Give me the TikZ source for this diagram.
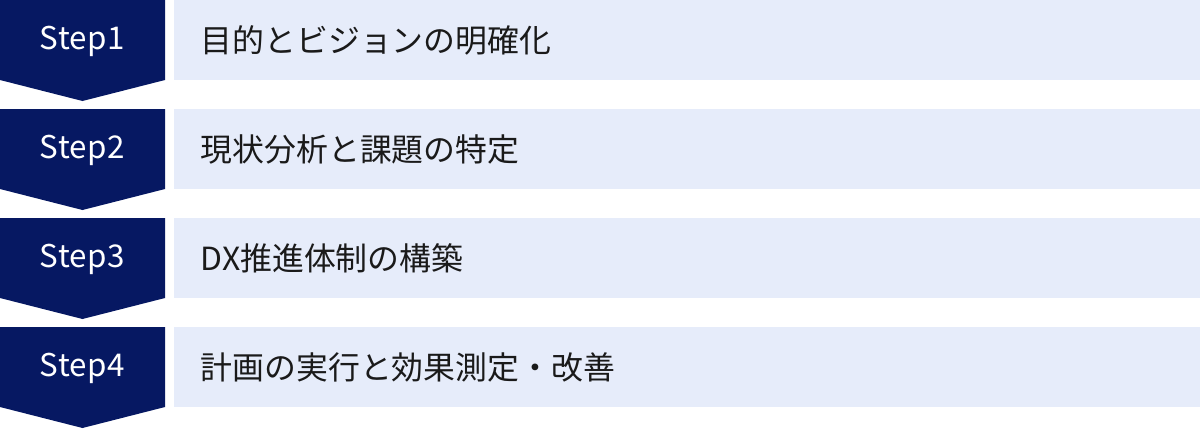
\documentclass[tikz,border=0pt]{standalone}
\usepackage{fontspec}
\setmainfont{Noto Sans CJK JP}
\definecolor{navy}{RGB}{6,24,98}
\definecolor{lightbg}{RGB}{230,236,250}
\definecolor{txt}{RGB}{26,26,26}
\tikzset{
  stepshape/.style={fill=navy,draw=none},
  bar/.style={fill=lightbg,draw=none},
  steplabel/.style={text=white,font=\fontsize{23.5}{28}\selectfont,inner sep=0pt,anchor=center},
  itemlabel/.style={text=txt,font=\fontsize{23.9}{28}\selectfont,inner sep=0pt,anchor=west},
}
\begin{document}
\begin{tikzpicture}[x=0.75pt,y=-0.75pt]
\useasboundingbox (0,0) rectangle (1200,429);
\foreach \i/\lab/\txt in {0/Step1/目的とビジョンの明確化,1/Step2/現状分析と課題の特定,2/Step3/DX推進体制の構築,3/Step4/計画の実行と効果測定・改善}{
  \pgfmathsetmacro{\yy}{109*\i}
  \fill[stepshape] (0,\yy) -- (165,\yy) -- (165,\yy+80) -- (82.5,\yy+101) -- (0,\yy+80) -- cycle;
  \fill[bar] (174,\yy) rectangle (1200,\yy+80);
  \node[steplabel] (s\i) at (82.5,\yy+41) {\addfontfeatures{LetterSpace=1.5}\lab};
  \node[itemlabel] (t\i) at (200.5,\yy+40) {\txt};
}
\end{tikzpicture}
\end{document}
